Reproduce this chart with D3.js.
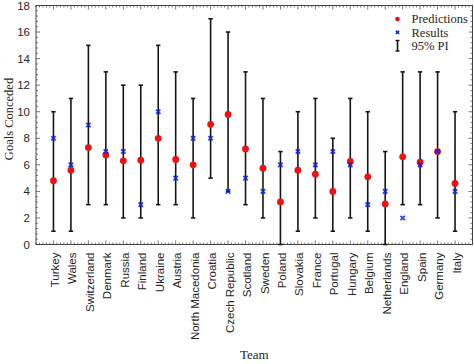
<!DOCTYPE html>
<html>
<head>
<meta charset="utf-8">
<script src="https://cdn.jsdelivr.net/npm/d3@7"></script>
<style>
  body { margin: 0; background: #fff; }
  .tick-label { font-family: "Liberation Sans", Arial, sans-serif; fill: #262626; }
  .serif { font-family: "Liberation Serif", "Times New Roman", serif; fill: #262626; }
</style>
</head>
<body>
<script>
// team order on the x axis
var teams = ["Turkey","Wales","Switzerland","Denmark","Russia","Finland","Ukraine","Austria",
  "North Macedonia","Croatia","Czech Republic","Scotland","Sweden","Poland","Slovakia","France",
  "Portugal","Hungary","Belgium","Netherlands","England","Spain","Germany","Italy"];
// predicted goals conceded (red dots)
var predictions = [4.8,5.6,7.3,6.75,6.3,6.35,8.0,6.4,6.0,9.05,9.8,7.2,5.75,3.2,5.6,5.3,
  4.0,6.25,5.1,3.05,6.6,6.2,7.0,4.6];
// actual goals conceded (blue crosses)
var results = [8,6,9,7,7,3,10,5,8,8,4,5,4,6,7,6,7,6,3,4,2,6,7,4];
// 95% prediction interval
var piLow  = [1,1,3,3,2,2,3,3,2,5,4,3,2,0,1,2,1,2,1,0,3,3,2,1];
var piHigh = [10,11,15,13,12,12,15,13,11,17,16,13,11,7,10,11,8,11,10,7,13,13,13,10];
var yTicks = [0,2,4,6,8,10,12,14,16,18];

var W = 474, H = 364;
var svg = d3.select("body").append("svg").attr("width", W).attr("height", H);

var x = d3.scaleLinear().domain([0, 25]).range([36, 472.5]);
var y = d3.scaleLinear().domain([0, 18]).range([244.5, 5.5]);

var x0 = x.range()[0], x1 = x.range()[1], y0 = y.range()[0], y1 = y.range()[1];

// ticks (inward, on all four sides)
var g = svg.append("g").attr("stroke", "#555").attr("stroke-width", 0.8);
d3.range(0, 25.01, 0.2).forEach(function(v){
  var major = Math.abs(v - Math.round(v)) < 1e-6 && v > 0 && v < 25;
  var len = major ? 4 : 2;
  g.append("line").attr("x1", x(v)).attr("x2", x(v)).attr("y1", y0).attr("y2", y0 - len);
  g.append("line").attr("x1", x(v)).attr("x2", x(v)).attr("y1", y1).attr("y2", y1 + len);
});
d3.range(0, 18.01, 0.4).forEach(function(v){
  var major = Math.abs(v / 2 - Math.round(v / 2)) < 1e-6;
  var len = major ? 4 : 2;
  g.append("line").attr("y1", y(v)).attr("y2", y(v)).attr("x1", x0).attr("x2", x0 + len);
  g.append("line").attr("y1", y(v)).attr("y2", y(v)).attr("x1", x1).attr("x2", x1 - len);
});

svg.append("rect").attr("x", x0).attr("y", y1).attr("width", x1 - x0).attr("height", y0 - y1)
  .attr("fill", "none").attr("stroke", "#444").attr("stroke-width", 1);

// y tick labels
svg.selectAll(".ylab").data(yTicks).enter().append("text")
  .attr("class", "tick-label").attr("font-size", "11.5px")
  .attr("x", x0 - 6).attr("y", function(d){ return y(d); })
  .attr("dy", "0.35em").attr("text-anchor", "end").text(function(d){ return d; });

// x tick labels (rotated)
svg.selectAll(".xlab").data(teams).enter().append("text")
  .attr("class", "tick-label").attr("font-size", "11.5px")
  .attr("transform", function(d, i){ return "translate(" + (x(i + 1) + 1.5) + "," + (y0 + 8) + ") rotate(-90)"; })
  .attr("dy", "0.35em").attr("text-anchor", "end").text(function(d){ return d; });

// error bars
var bars = svg.append("g").attr("stroke", "#161616").attr("stroke-width", 1.6);
teams.forEach(function(t, i){
  var cx = x(i + 1);
  bars.append("line").attr("x1", cx).attr("x2", cx).attr("y1", y(piLow[i])).attr("y2", y(piHigh[i]));
  [piLow[i], piHigh[i]].forEach(function(v){
    bars.append("line").attr("x1", cx - 2.2).attr("x2", cx + 2.2).attr("y1", y(v)).attr("y2", y(v));
  });
});

// predictions
svg.selectAll(".pred").data(predictions).enter().append("circle")
  .attr("cx", function(d, i){ return x(i + 1); }).attr("cy", function(d){ return y(d); })
  .attr("r", 3.4).attr("fill", "#ee1111");

// results (drawn over the predictions)
svg.selectAll(".res").data(results).enter().append("path")
  .attr("d", d3.symbol(d3.symbolTimes, 14))
  .attr("transform", function(d, i){ return "translate(" + x(i + 1) + "," + y(d) + ")"; })
  .attr("fill", "none").attr("stroke", "#0a1ee8").attr("stroke-width", 1.8).attr("stroke-opacity", 0.85);

// legend
var lg = svg.append("g");
lg.append("circle").attr("cx", 397.5).attr("cy", 19).attr("r", 2.3).attr("fill", "#ee1111");
lg.append("path").attr("d", d3.symbol(d3.symbolTimes, 8)).attr("transform", "translate(397.5,32.3)")
  .attr("fill", "none").attr("stroke", "#0a1ee8").attr("stroke-width", 1.6);
lg.append("line").attr("x1", 397.5).attr("x2", 397.5).attr("y1", 40.5).attr("y2", 51).attr("stroke", "#111").attr("stroke-width", 1.6);
lg.append("line").attr("x1", 395.5).attr("x2", 399.5).attr("y1", 40.5).attr("y2", 40.5).attr("stroke", "#111").attr("stroke-width", 1.4);
lg.append("line").attr("x1", 395.5).attr("x2", 399.5).attr("y1", 51).attr("y2", 51).attr("stroke", "#111").attr("stroke-width", 1.4);
var legendText = ["Predictions", "Results", "95% PI"];
var legendY = [19, 32.3, 45.6];
legendText.forEach(function(s, i){
  lg.append("text").attr("class", "serif").attr("x", 411.5).attr("y", legendY[i])
    .attr("dy", "0.35em").attr("font-size", "12.5px").text(s);
});

// axis titles
svg.append("text").attr("class", "serif").attr("font-size", "12.5px")
  .attr("transform", "translate(9,119) rotate(-90)")
  .attr("text-anchor", "middle").attr("dy", "0.35em").text("Goals Conceded");
svg.append("text").attr("class", "serif").attr("font-size", "13px")
  .attr("x", (x0 + x1) / 2).attr("y", 359).attr("text-anchor", "middle").text("Team");
</script>
</body>
</html>
